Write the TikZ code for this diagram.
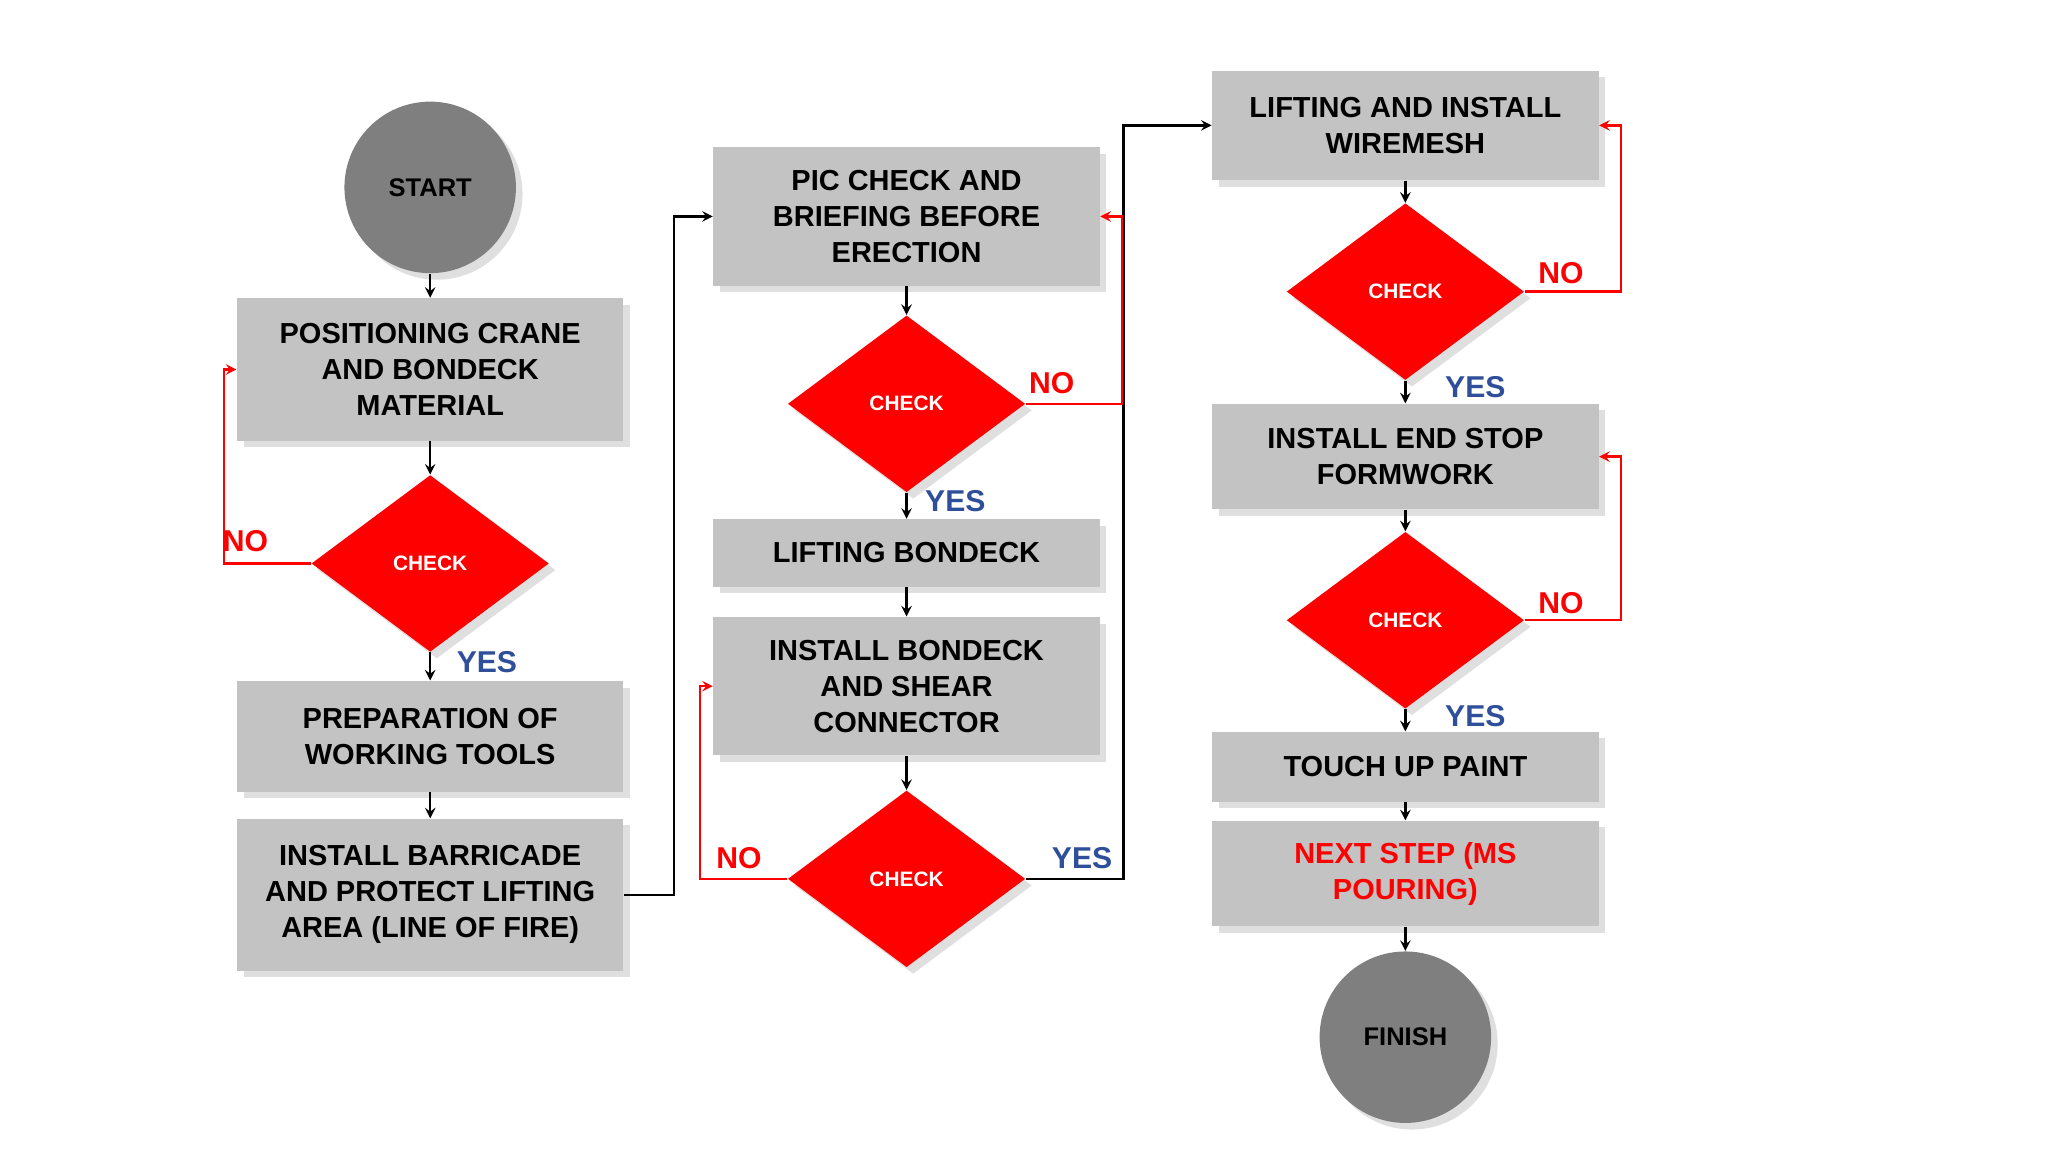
\documentclass[tikz,border=0pt]{standalone}
\usepackage{fontspec}
\setmainfont{Liberation Sans}
\usetikzlibrary{shapes.geometric,shadows}
\definecolor{boxgray}{HTML}{C3C3C3}
\definecolor{circgray}{HTML}{7F7F7F}
\definecolor{yesblue}{HTML}{2F4F9A}
\begin{document}
\begin{tikzpicture}[x=0.02cm,y=-0.02cm,>=stealth]

% node style definition
\tikzstyle{block} = [
	draw=none, fill=boxgray, rectangle, align=center,
	minimum width=5.86cm, font=\fontsize{12.5}{15.5}\selectfont\bfseries,
	drop shadow={opacity=0.25,shadow xshift=1mm,shadow yshift=-1mm} ];
\tikzstyle{check} = [
	diamond, fill=red, inner sep=0pt, text=white,
	minimum width=3.6cm, minimum height=2.68cm,
	font=\fontsize{9}{10}\selectfont\bfseries,
	drop shadow={opacity=0.25,shadow xshift=1mm,shadow yshift=-1mm} ];
\tikzstyle{term} = [
	circle, fill=circgray, minimum size=2.6cm,
	font=\fontsize{11}{12}\selectfont\bfseries,
	drop shadow={opacity=0.25,shadow xshift=1mm,shadow yshift=-1mm} ];
\tikzstyle{yes} = [text=yesblue, font=\fontsize{13}{14}\selectfont\bfseries];
\tikzstyle{no} = [text=red, font=\fontsize{13}{14}\selectfont\bfseries];
\tikzstyle{go} = [->, draw=black, line width=1pt];
\tikzstyle{back} = [->, draw=red, line width=1pt];

\useasboundingbox (0,0) rectangle (1552,873);

% first column
\node[term] (start) at (326,142) {START};
\node[block, minimum height=2.16cm] (crane) at (326,280) {POSITIONING CRANE\\AND BONDECK\\MATERIAL};
\node[check] (chk1) at (326,427) {CHECK};
\node[block, minimum height=1.68cm] (tools) at (326,558) {PREPARATION OF\\WORKING TOOLS};
\node[block, minimum height=2.3cm] (barr) at (326,678) {INSTALL BARRICADE\\AND PROTECT LIFTING\\AREA (LINE OF FIRE)};

% second column
\node[block, minimum height=2.1cm] (pic) at (687,164) {PIC CHECK AND\\BRIEFING BEFORE\\ERECTION};
\node[check] (chk2) at (687,306) {CHECK};
\node[block, minimum height=1.02cm] (lift) at (687,419) {LIFTING BONDECK};
\node[block, minimum height=2.1cm] (inst) at (687,520) {INSTALL BONDECK\\AND SHEAR\\CONNECTOR};
\node[check] (chk3) at (687,666) {CHECK};

% third column
\node[block, minimum height=1.66cm] (mesh) at (1065,95) {LIFTING AND INSTALL\\WIREMESH};
\node[check] (chk4) at (1065,221) {CHECK};
\node[block, minimum height=1.6cm] (stop) at (1065,346) {INSTALL END STOP\\FORMWORK};
\node[check] (chk5) at (1065,470) {CHECK};
\node[block, minimum height=1.06cm] (paint) at (1065,581) {TOUCH UP PAINT};
\node[block, minimum height=1.6cm, text=red] (next) at (1065,662) {NEXT STEP (MS\\POURING)};
\node[term] (fin) at (1065,786) {FINISH};

% forward flow
\draw[go] (start) -- (crane);
\draw[go] (crane) -- (chk1);
\draw[go] (chk1) -- (tools);
\draw[go] (tools) -- (barr);
\draw[go] (barr.east) -- ++(38,0) |- (pic.west);
\draw[go] (pic) -- (chk2);
\draw[go] (chk2) -- (lift);
\draw[go] (lift) -- (inst);
\draw[go] (inst) -- (chk3);
\draw[go] (chk3.east) -- ++(74,0) |- (mesh.west);
\draw[go] (mesh) -- (chk4);
\draw[go] (chk4) -- (stop);
\draw[go] (stop) -- (chk5);
\draw[go] (chk5) -- (paint);
\draw[go] (paint) -- (next);
\draw[go] (next) -- (fin);

% loops back
\draw[back] (chk1.west) -- ++(-66,0) |- (crane.west);
\draw[back] (chk2.east) -- ++(73,0) |- (pic.east);
\draw[back] (chk3.west) -- ++(-66,0) |- (inst.west);
\draw[back] (chk4.east) -- ++(73,0) |- (mesh.east);
\draw[back] (chk5.east) -- ++(73,0) |- (stop.east);

% labels
\node[no] (n1) at (186,410) {NO};
\node[yes] (y1) at (369,502) {YES};
\node[no] (n2) at (797,290) {NO};
\node[yes] (y2) at (724,380) {YES};
\node[no] (n3) at (560,650) {NO};
\node[yes] (y3) at (820,650) {YES};
\node[no] (n4) at (1183,207) {NO};
\node[yes] (y4) at (1118,293) {YES};
\node[no] (n5) at (1183,457) {NO};
\node[yes] (y5) at (1118,543) {YES};

\end{tikzpicture}
\end{document}
